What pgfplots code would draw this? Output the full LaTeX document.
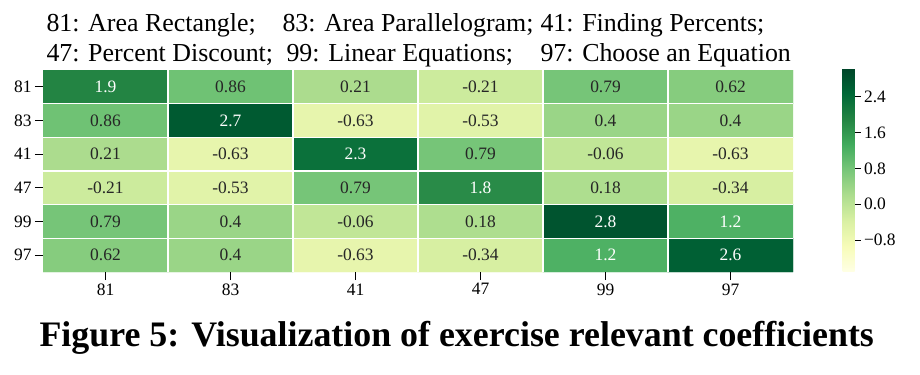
\documentclass[border=0pt]{standalone}
\usepackage{pgfplots}
\pgfplotsset{compat=1.18}
\usepackage{pgfplotstable}
\usepackage{fontspec}
\setmainfont{Liberation Serif}
\definecolor{lbl}{HTML}{262626}

\pgfplotstableread{
x y v
0 0 1.9
1 0 0.86
2 0 0.21
3 0 -0.21
4 0 0.79
5 0 0.62
0 1 0.86
1 1 2.7
2 1 -0.63
3 1 -0.53
4 1 0.4
5 1 0.4
0 2 0.21
1 2 -0.63
2 2 2.3
3 2 0.79
4 2 -0.06
5 2 -0.63
0 3 -0.21
1 3 -0.53
2 3 0.79
3 3 1.8
4 3 0.18
5 3 -0.34
0 4 0.79
1 4 0.4
2 4 -0.06
3 4 0.18
4 4 2.8
5 4 1.2
0 5 0.62
1 5 0.4
2 5 -0.63
3 5 -0.34
4 5 1.2
5 5 2.6
}\heat

\begin{document}
\begin{tikzpicture}
\useasboundingbox (-43bp,-103bp) rectangle (877bp,272bp);
\begin{axis}[
  scale only axis, width=750bp, height=202bp,
  xmin=-0.5, xmax=5.5, ymin=-0.5, ymax=5.5, y dir=reverse,
  xtick={0,1,2,3,4,5}, xticklabels={81,83,41,47,99,97},
  ytick={0,1,2,3,4,5}, yticklabels={81,83,41,47,99,97},
  tick pos=left, tick align=outside, major tick length=8bp,
  tick style={black, line width=0.8bp},
  axis line style={draw=none},
  minor xtick={0.5,1.5,2.5,3.5,4.5}, minor ytick={0.5,1.5,2.5,3.5,4.5},
  minor tick length=0pt, grid=minor,
  minor grid style={white, line width=1.2bp},
  axis on top,
  ticklabel style={font=\fontsize{17.5}{17.5}\selectfont},
  colormap={ylgn}{rgb255=(255,255,229) rgb255=(247,252,185) rgb255=(217,240,163) rgb255=(173,221,142) rgb255=(120,198,121) rgb255=(65,171,93) rgb255=(35,132,67) rgb255=(0,104,55) rgb255=(0,69,41)},
  point meta min=-1.51, point meta max=3.04,
  colorbar,
  colorbar style={
    at={(parent axis.south east)}, anchor=south west, xshift=41bp,
    scale only axis, width=12bp, height=204bp,
    ytick={-0.8,0,0.8,1.6,2.4}, yticklabels={−0.8,0.0,0.8,1.6,2.4},
    axis line style={draw=none},
    major tick length=6bp, tick align=outside,
    tick style={black, line width=0.8bp},
    ytick pos=right,
    yticklabel style={font=\fontsize{17.5}{17.5}\selectfont},
  },
  every node near coord/.append style={font=\fontsize{17.5}{17.5}\selectfont},
  nodes near coords align={center},
]
\addplot[matrix plot*, mesh/cols=6, point meta=explicit] table[meta=v] {\heat};
\addplot[only marks, mark=none, point meta=explicit symbolic, nodes near coords,
  every node near coord/.append style={text=lbl}]
  coordinates {
  (1,0)[0.86] (2,0)[0.21] (3,0)[-0.21] (4,0)[0.79] (5,0)[0.62]
  (0,1)[0.86] (2,1)[-0.63] (3,1)[-0.53] (4,1)[0.4] (5,1)[0.4]
  (0,2)[0.21] (1,2)[-0.63] (3,2)[0.79] (4,2)[-0.06] (5,2)[-0.63]
  (0,3)[-0.21] (1,3)[-0.53] (2,3)[0.79] (4,3)[0.18] (5,3)[-0.34]
  (0,4)[0.79] (1,4)[0.4] (2,4)[-0.06] (3,4)[0.18]
  (0,5)[0.62] (1,5)[0.4] (2,5)[-0.63] (3,5)[-0.34]
  };
\addplot[only marks, mark=none, point meta=explicit symbolic, nodes near coords,
  every node near coord/.append style={text=white}]
  coordinates {
  (0,0)[1.9] (1,1)[2.7] (2,2)[2.3] (3,3)[1.8] (4,4)[2.8] (5,4)[1.2] (4,5)[1.2] (5,5)[2.6]
  };
\end{axis}
\node[anchor=base west, font=\fontsize{26}{26}\selectfont] at (0bp,240bp) {81: Area Rectangle;};
\node[anchor=base west, font=\fontsize{26}{26}\selectfont] at (236bp,240bp) {83: Area Parallelogram;};
\node[anchor=base west, font=\fontsize{26}{26}\selectfont] at (494bp,240bp) {41: Finding Percents;};
\node[anchor=base west, font=\fontsize{26}{26}\selectfont] at (0bp,210.3bp) {47: Percent Discount;};
\node[anchor=base west, font=\fontsize{26}{26}\selectfont] at (240bp,210.3bp) {99: Linear Equations;};
\node[anchor=base west, font=\fontsize{26}{26}\selectfont] at (494bp,210.3bp) {97: Choose an Equation};
\node[anchor=base west, font=\bfseries\fontsize{36}{36}\selectfont] at (-7bp,-74bp) {Figure 5: Visualization of exercise relevant coefficients};
\end{tikzpicture}
\end{document}
